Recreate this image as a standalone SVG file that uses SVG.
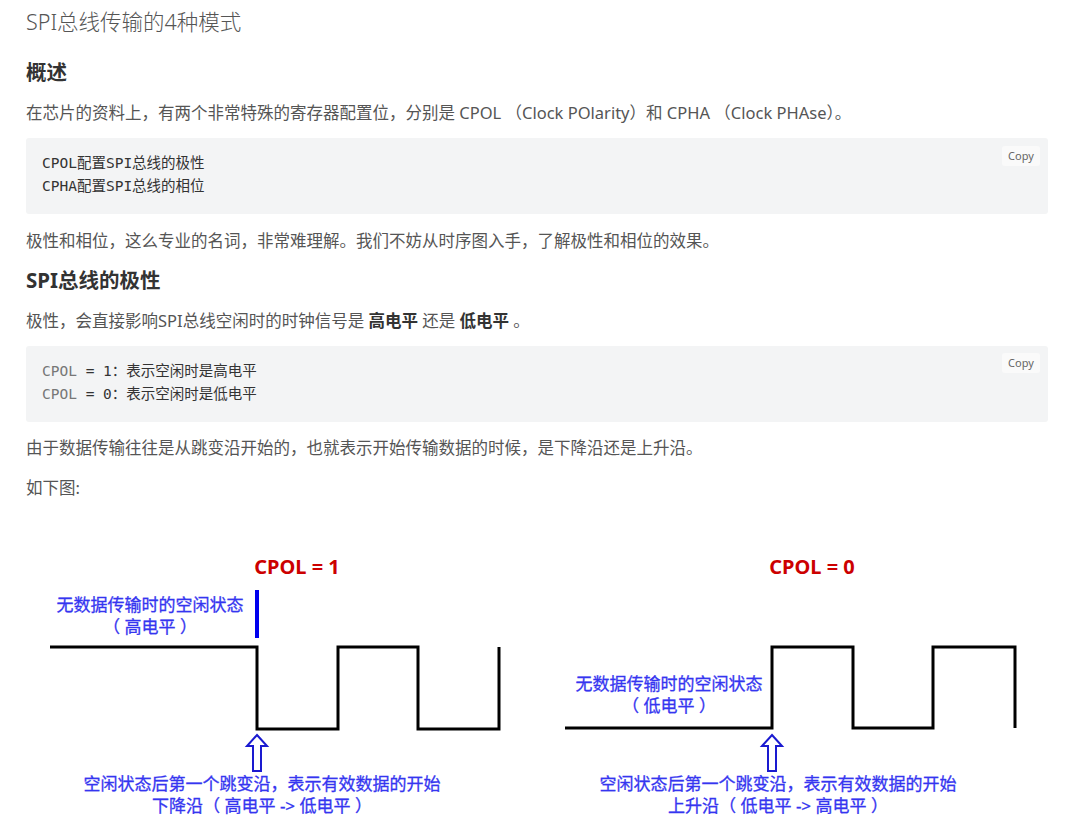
<svg xmlns="http://www.w3.org/2000/svg" width="1069" height="837" viewBox="0 0 1069 837">
<style>
text{font-family:"Noto Sans","Noto Sans CJK SC",sans-serif}
.p{font-size:16.5px;fill:#555}
.h{font-size:20.5px;font-weight:bold;fill:#333}
.code{fill:#f3f4f5}
.mono{font-family:"DejaVu Sans Mono","Noto Sans CJK SC",monospace;font-size:14.5px;fill:#333}
.copy{font-size:11px;fill:#666}
.wave{fill:none;stroke:#000;stroke-width:3}
.blue{font-size:17px;fill:#3535f0;text-anchor:middle;stroke:#3535f0;stroke-width:0.3}
.red{font-size:20px;font-weight:bold;fill:#cc0000;text-anchor:middle}
.arr{fill:#fff;stroke:#1a1ad0;stroke-width:2}
</style>
<rect width="1069" height="837" fill="#fff"/>
<text x="26" y="30" style="font-size:21.5px;fill:#555;font-weight:300">SPI总线传输的4种模式</text>
<text x="26" y="80" class="h">概述</text>
<text x="26" y="119" class="p">在芯片的资料上，有两个非常特殊的寄存器配置位，分别是 CPOL （Clock POlarity）和 CPHA （Clock PHAse）。</text>
<rect x="26" y="138" width="1022" height="76" rx="3" class="code"/>
<text x="42" y="168" class="mono">CPOL配置SPI总线的极性</text>
<text x="42" y="191" class="mono">CPHA配置SPI总线的相位</text>
<rect x="1002" y="146" width="38" height="20" rx="3" fill="#fafafa"/>
<text x="1021" y="160" class="copy" text-anchor="middle">Copy</text>
<text x="26" y="247" class="p">极性和相位，这么专业的名词，非常难理解。我们不妨从时序图入手，了解极性和相位的效果。</text>
<text x="26" y="288" class="h">SPI总线的极性</text>
<text x="26" y="327" class="p">极性，会直接影响SPI总线空闲时的时钟信号是 <tspan font-weight="bold" fill="#333">高电平</tspan> 还是 <tspan font-weight="bold" fill="#333">低电平</tspan> 。</text>
<rect x="26" y="346" width="1022" height="76" rx="3" class="code"/>
<text x="42" y="376" class="mono"><tspan fill="#777">CPOL</tspan> = 1：表示空闲时是高电平</text>
<text x="42" y="399" class="mono"><tspan fill="#777">CPOL</tspan> = 0：表示空闲时是低电平</text>
<rect x="1002" y="353" width="38" height="20" rx="3" fill="#fafafa"/>
<text x="1021" y="367" class="copy" text-anchor="middle">Copy</text>
<text x="26" y="454" class="p">由于数据传输往往是从跳变沿开始的，也就表示开始传输数据的时候，是下降沿还是上升沿。</text>
<text x="26" y="494" class="p">如下图:</text>
<g id="cpol1">
<text x="297" y="574" class="red">CPOL = 1</text>
<rect x="255" y="590" width="4" height="48" fill="#0000ee"/>
<text x="150" y="611" class="blue">无数据传输时的空闲状态</text>
<text x="150" y="633" class="blue">（ 高电平 ）</text>
<polyline class="wave" points="50,647 257,647 257,729 338,729 338,647 418,647 418,729 499,729 499,647"/>
<path class="arr" d="M257,735 L267,746 L261,746 L261,771 L253,771 L253,746 L247,746 Z"/>
<text x="262" y="790" class="blue">空闲状态后第一个跳变沿，表示有效数据的开始</text>
<text x="262" y="812" class="blue">下降沿（ 高电平 -&gt; 低电平 ）</text>
</g>
<g id="cpol0">
<text x="812" y="574" class="red">CPOL = 0</text>
<text x="669" y="690" class="blue">无数据传输时的空闲状态</text>
<text x="669" y="712" class="blue">（ 低电平 ）</text>
<polyline class="wave" points="565,728 772,728 772,647 853,647 853,728 933,728 933,647 1015,647 1015,728"/>
<path class="arr" d="M772,735 L782,746 L776,746 L776,771 L768,771 L768,746 L762,746 Z"/>
<text x="778" y="790" class="blue">空闲状态后第一个跳变沿，表示有效数据的开始</text>
<text x="778" y="812" class="blue">上升沿（ 低电平 -&gt; 高电平 ）</text>
</g>
<g id="connectors"/>
</svg>
